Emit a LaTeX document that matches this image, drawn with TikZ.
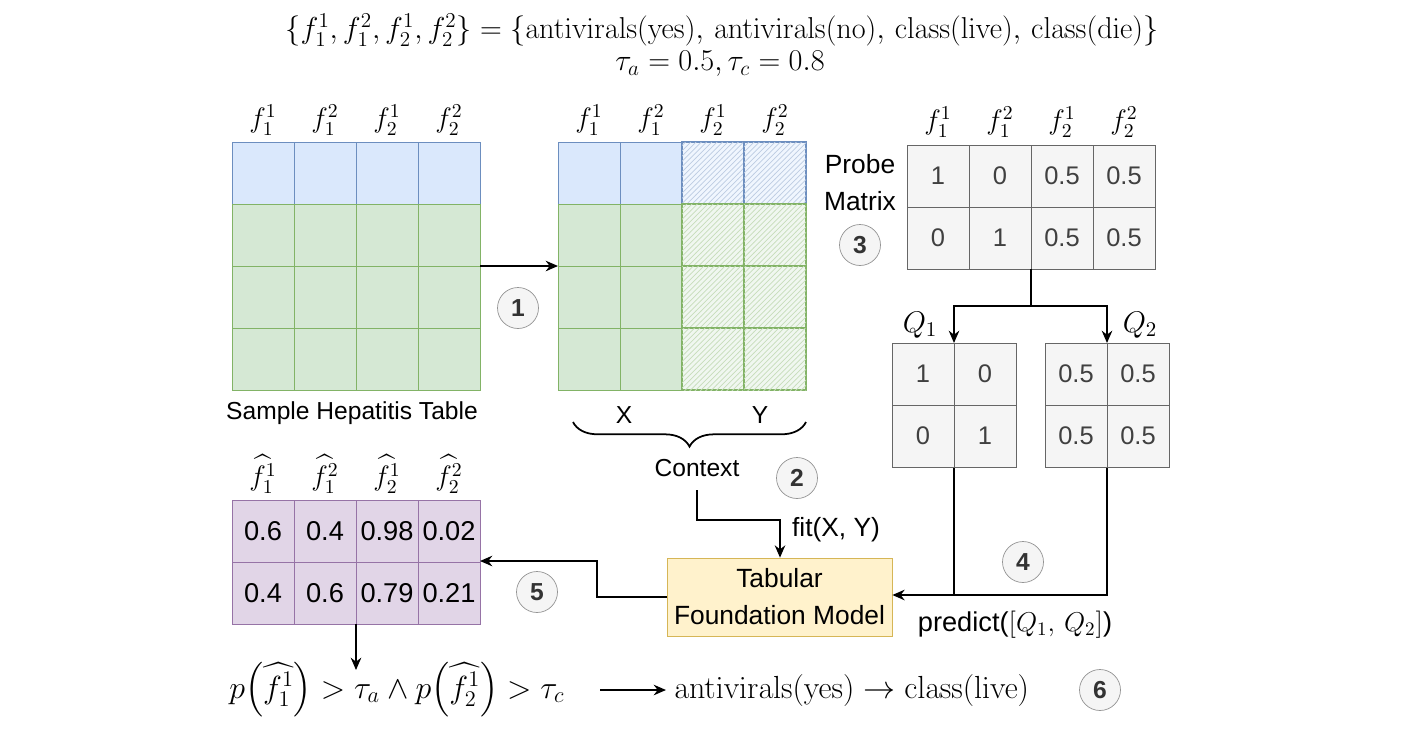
\RequirePackage{fix-cm}
\documentclass[tikz,border=0pt]{standalone}
\usepackage{amsmath}
\usepackage[no-math]{fontspec}
\setmainfont{Liberation Sans}
\usetikzlibrary{patterns,decorations.pathreplacing,arrows.meta}
\definecolor{bfill}{HTML}{DAE8FC}\definecolor{bdraw}{HTML}{6C8EBF}
\definecolor{gfill}{HTML}{D5E8D4}\definecolor{gdraw}{HTML}{82B366}
\definecolor{pfill}{HTML}{E1D5E7}\definecolor{pdraw}{HTML}{9673A6}
\definecolor{yfill}{HTML}{FFF2CC}\definecolor{ydraw}{HTML}{D6B656}
\definecolor{cfill}{HTML}{F5F5F5}\definecolor{cdraw}{HTML}{666666}
\begin{document}
\begin{tikzpicture}[x=0.02cm,y=-0.02cm,
  lab/.style={font=\fontsize{14}{16}\selectfont},
  hd/.style={font=\fontsize{16}{18}\selectfont,inner sep=0pt},
  cellt/.style={font=\fontsize{14.5}{16}\selectfont},
  num/.style={circle,draw=cdraw!70,fill=cfill,minimum size=0.82cm,inner sep=0pt,font=\bfseries\fontsize{14}{16}\selectfont,text=black!80},
  arr/.style={-{Stealth[length=7pt,width=6pt]},line width=1pt},
  ln/.style={line width=1pt}]
\useasboundingbox (0,0) rectangle (1410,738);
% title
\node[font=\fontsize{17.2}{20}\selectfont] (t1) at (722,30) {$\{f_1^1,f_1^2,f_2^1,f_2^2\}=\{\mathrm{antivirals(yes)},\,\mathrm{antivirals(no)},\,\mathrm{class(live)},\,\mathrm{class(die)}\}$};
\node[font=\fontsize{17.2}{20}\selectfont] (t2) at (720,64) {$\tau_a=0.5,\tau_c=0.8$};
% headers
\foreach \x/\h [count=\i] in {0/f_1^1,1/f_1^2,2/f_2^1,3/f_2^2}{
  \node[hd] (ha\i) at (263+62*\x,120) {$\h$};
  \node[hd] (hb\i) at (589+62*\x,120) {$\h$};
  \node[hd] (hc\i) at (938+62*\x,122) {$\h$};
}
\foreach \x/\h [count=\i] in {0/\widehat{f_1^1},1/\widehat{f_1^2},2/\widehat{f_2^1},3/\widehat{f_2^2}}
  \node[hd] (hd\i) at (263+62*\x,474) {$\h$};
% table 1
\foreach \c in {0,...,3}{
  \draw[draw=bdraw,fill=bfill] (232+62*\c,142) rectangle ++(62,62);
  \foreach \r in {1,2,3} \draw[draw=gdraw,fill=gfill] (232+62*\c,142+62*\r) rectangle ++(62,62);
}
\node[lab] (st) at (352,413) {Sample Hepatitis Table};
% table 2
\foreach \c in {0,1}{
  \draw[draw=bdraw,fill=bfill] (558+62*\c,142) rectangle ++(62,62);
  \foreach \r in {1,2,3} \draw[draw=gdraw,fill=gfill] (558+62*\c,142+62*\r) rectangle ++(62,62);
}
\foreach \c in {2,3}{
  \draw[draw=bdraw,line width=0.8pt,fill=bfill!40,postaction={pattern=north east lines,pattern color=bdraw!45}] (558+62*\c,142) rectangle ++(62,62);
  \foreach \r in {1,2,3} \draw[draw=gdraw,line width=0.8pt,fill=gfill!35,postaction={pattern=north east lines,pattern color=gdraw!45}] (558+62*\c,142+62*\r) rectangle ++(62,62);
}
\coordinate (a1s) at (480,266); \coordinate (a1e) at (558,266);
\draw[arr] (a1s) -- (a1e);
\node[num] (n1) at (518,308) {1};
\node[lab] (X) at (624,415) {X};
\node[lab] (Y) at (760,415) {Y};
\draw[decorate,decoration={brace,amplitude=14pt,mirror},line width=1pt] (573,422) -- (806,422);
\node[lab] (ctx) at (697,468) {Context};
\node[num] (n2) at (797,478) {2};
% probe
\node[lab,align=center,font=\fontsize{15}{21}\selectfont] (pm) at (860,183) {Probe\\Matrix};
\node[num] (n3) at (860,245) {3};
\foreach \v [count=\i from 0] in {1,0,0.5,0.5}
  \node[draw=cdraw,fill=cfill,minimum size=62*0.02cm,inner sep=0pt,cellt,text=black!75] (p0\i) at (938+62*\i,176) {\v};
\foreach \v [count=\i from 0] in {0,1,0.5,0.5}
  \node[draw=cdraw,fill=cfill,minimum size=62*0.02cm,inner sep=0pt,cellt,text=black!75] (p1\i) at (938+62*\i,238) {\v};
% Q tables
\foreach \v/\px/\py/\nm in {1/923/374/qa,0/985/374/qb,0/923/436/qc,1/985/436/qd,0.5/1076/374/ra,0.5/1138/374/rb,0.5/1076/436/rc,0.5/1138/436/rd}
  \node[draw=cdraw,fill=cfill,minimum size=62*0.02cm,inner sep=0pt,cellt,text=black!75] (\nm) at (\px,\py) {\v};
\coordinate (pb) at (1031,269); \coordinate (sp) at (1031,306);
\coordinate (sl) at (954,306); \coordinate (sr) at (1107,306);
\coordinate (q1t) at (954,343); \coordinate (q2t) at (1107,343);
\draw[ln] (pb) -- (sp);
\draw[arr] (sp) -- (sl) -- (q1t);
\draw[arr] (sp) -- (sr) -- (q2t);
\node[hd,font=\fontsize{17}{19}\selectfont] (Q1) at (920,325) {$Q_1$};
\node[hd,font=\fontsize{17}{19}\selectfont] (Q2) at (1140,325) {$Q_2$};
% TFM
\node[draw=ydraw,fill=yfill,minimum width=225*0.02cm,minimum height=78*0.02cm,align=center,font=\fontsize{15}{21}\selectfont] (tfm) at (779.5,597) {Tabular\\Foundation Model};
\coordinate (q1b) at (954,468); \coordinate (q2b) at (1107,468);
\coordinate (j1) at (954,595); \coordinate (j2) at (1107,595);
\draw[arr] (q1b) -- (j1) -- (tfm.east |- j1);
\draw[ln] (q2b) -- (j2) -- (j1);
\node[num] (n4) at (1023,562) {4};
\node[font=\fontsize{15.5}{17}\selectfont] (pr) at (1015,625) {predict($[Q_1,\,Q_2]$)};
\coordinate (c1) at (697,490); \coordinate (c2) at (697,520); \coordinate (c3) at (780,520);
\draw[arr] (c1) -- (c2) -- (c3) -- (tfm.north -| c3);
\node[lab,font=\fontsize{15}{17}\selectfont] (fit) at (836,530) {fit(X, Y)};
% purple
\foreach \v/\c/\r [count=\i] in {0.6/0/0,0.4/1/0,0.98/2/0,0.02/3/0,0.4/0/1,0.6/1/1,0.79/2/1,0.21/3/1}
  \node[draw=pdraw,fill=pfill,minimum size=62*0.02cm,inner sep=0pt,cellt,font=\fontsize{15.5}{17}\selectfont] (o\i) at (263+62*\c,531+62*\r) {\v};
\coordinate (m1) at (597,597); \coordinate (m2) at (597,561); \coordinate (m3) at (480,561);
\draw[arr] (tfm.west) -- (m1) -- (m2) -- (m3);
\node[num] (n5) at (537,592) {5};
\coordinate (pd) at (356,624); \coordinate (pd2) at (356,670);
\draw[arr] (pd) -- (pd2);
% bottom formula
\node[font=\fontsize{18.2}{21}\selectfont,anchor=west,inner sep=0pt] (f1) at (229,690) {$p\Bigl(\widehat{f_1^1}\Bigr)>\tau_a\wedge p\Bigl(\widehat{f_2^1}\Bigr)>\tau_c$};
\node[font=\fontsize{18.2}{21}\selectfont,anchor=west,inner sep=0pt] (f2) at (674,690) {$\mathrm{antivirals(yes)}\rightarrow\mathrm{class(live)}$};
\coordinate (fa) at (600,690); \coordinate (fb) at (666,690);
\draw[arr] (fa) -- (fb);
\node[num] (n6) at (1100,690) {6};
\end{tikzpicture}
\end{document}
